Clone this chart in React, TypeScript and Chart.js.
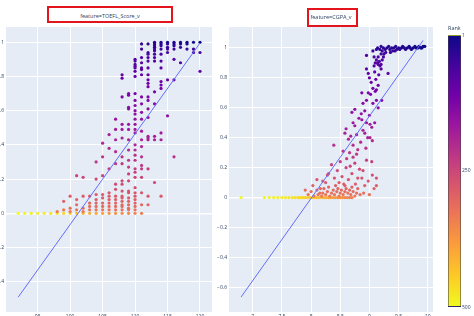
import React, { useEffect, useRef } from "react";
import { Chart, registerables } from "chart.js";

Chart.register(...registerables);

// ---------- DATA ----------
// TOEFL panel points: [TOEFL score, y, Rank]
const toeflPoints: [number, number, number][] = [
  [92, 0, 500], [93, 0, 496], [94, 0, 492], [95, 0, 488], [96, 0, 484], [97, 0, 478],
  [98, 0, 470], [98, 0.01, 338],
  [99, 0, 460], [99, 0.02, 328], [99, 0.07, 297],
  [100, 0, 448], [100, 0.01, 337], [100, 0.03, 321], [100, 0.1, 285],
  [101, 0, 435], [101, 0.02, 327], [101, 0.05, 308], [101, 0.08, 293], [101, 0.22, 246],
  [102, 0, 422], [102, 0.01, 336], [102, 0.03, 320], [102, 0.1, 284], [102, 0.21, 249],
  [103, 0, 410], [103, 0.02, 326], [103, 0.04, 315], [103, 0.06, 302], [103, 0.1, 284],
  [104, 0, 398], [104, 0.02, 325], [104, 0.04, 314], [104, 0.06, 301], [104, 0.08, 292], [104, 0.11, 281], [104, 0.2, 251], [104, 0.3, 222],
  [105, 0, 388], [105, 0.02, 325], [105, 0.04, 313], [105, 0.06, 300], [105, 0.09, 288], [105, 0.11, 280], [105, 0.22, 245], [105, 0.33, 214], [105, 0.41, 194],
  [106, 0, 378], [106, 0.02, 324], [106, 0.04, 313], [106, 0.06, 300], [106, 0.08, 291], [106, 0.1, 283], [106, 0.12, 277], [106, 0.26, 233], [106, 0.38, 201], [106, 0.46, 181],
  [107, 0, 370], [107, 0.02, 324], [107, 0.04, 312], [107, 0.06, 300], [107, 0.08, 291], [107, 0.1, 283], [107, 0.14, 270], [107, 0.17, 261], [107, 0.29, 225], [107, 0.36, 207], [107, 0.43, 189], [107, 0.49, 174], [107, 0.55, 159],
  [108, 0, 362], [108, 0.02, 323], [108, 0.04, 312], [108, 0.05, 306], [108, 0.07, 296], [108, 0.09, 287], [108, 0.1, 283], [108, 0.13, 273], [108, 0.17, 260], [108, 0.19, 255], [108, 0.29, 224], [108, 0.33, 213], [108, 0.44, 186], [108, 0.49, 173], [108, 0.52, 166], [108, 0.68, 128], [108, 0.79, 102], [108, 0.81, 97],
  [109, 0, 355], [109, 0.02, 323], [109, 0.03, 318], [109, 0.05, 305], [109, 0.07, 295], [109, 0.09, 287], [109, 0.12, 276], [109, 0.13, 273], [109, 0.19, 254], [109, 0.23, 242], [109, 0.27, 230], [109, 0.31, 219], [109, 0.37, 203], [109, 0.43, 188], [109, 0.49, 173], [109, 0.52, 165], [109, 0.61, 144], [109, 0.62, 142], [109, 0.69, 125], [109, 0.7, 123],
  [110, 0, 348], [110, 0.02, 322], [110, 0.04, 311], [110, 0.06, 299], [110, 0.08, 290], [110, 0.1, 282], [110, 0.12, 276], [110, 0.15, 266], [110, 0.21, 247], [110, 0.24, 238], [110, 0.26, 232], [110, 0.31, 219], [110, 0.34, 211], [110, 0.37, 203], [110, 0.4, 195], [110, 0.47, 178], [110, 0.49, 172], [110, 0.52, 165], [110, 0.55, 158], [110, 0.58, 151], [110, 0.6, 146], [110, 0.63, 139], [110, 0.66, 132], [110, 0.7, 123], [110, 0.8, 99], [110, 0.83, 92], [110, 0.85, 87], [110, 0.86, 84], [110, 0.87, 82], [110, 0.89, 77], [110, 0.9, 74],
  [111, 0, 340], [111, 0.05, 304], [111, 0.12, 275], [111, 0.21, 247], [111, 0.26, 231], [111, 0.28, 227], [111, 0.33, 212], [111, 0.39, 198], [111, 0.43, 187], [111, 0.48, 175], [111, 0.55, 157], [111, 0.59, 149], [111, 0.64, 137], [111, 0.68, 127], [111, 0.81, 96], [111, 0.84, 89], [111, 0.85, 86], [111, 0.88, 79], [111, 0.91, 71], [111, 0.96, 54], [111, 0.99, 36],
  [112, 0.05, 303], [112, 0.1, 281], [112, 0.26, 231], [112, 0.43, 187], [112, 0.44, 185], [112, 0.45, 183], [112, 0.56, 156], [112, 0.61, 143], [112, 0.66, 131], [112, 0.68, 126], [112, 0.74, 114], [112, 0.76, 109], [112, 0.78, 104], [112, 0.81, 96], [112, 0.85, 86], [112, 0.89, 76], [112, 0.91, 70], [112, 0.93, 65], [112, 0.94, 62], [112, 0.99, 35],
  [113, 0.18, 257], [113, 0.43, 187], [113, 0.45, 182], [113, 0.64, 136], [113, 0.71, 121], [113, 0.89, 76], [113, 0.91, 70], [113, 0.93, 64], [113, 0.95, 58], [113, 0.96, 53], [113, 0.97, 48], [113, 0.98, 43], [113, 0.99, 33], [113, 1.0, 24],
  [114, 0.1, 281], [114, 0.43, 186], [114, 0.47, 177], [114, 0.73, 116], [114, 0.75, 111], [114, 0.77, 107], [114, 0.85, 86], [114, 0.89, 75], [114, 0.93, 64], [114, 0.96, 52], [114, 0.98, 42], [114, 0.99, 31], [114, 1.0, 21],
  [115, 0.57, 153], [115, 0.78, 104], [115, 0.94, 61], [115, 0.96, 51], [115, 0.97, 47], [115, 0.99, 29], [115, 1.0, 17],
  [116, 0.33, 212], [116, 0.78, 103], [116, 0.9, 73], [116, 0.96, 50], [116, 0.98, 41], [116, 0.99, 27], [116, 1.0, 13],
  [117, 0.88, 78], [117, 0.97, 46], [117, 0.99, 25], [117, 1.0, 10],
  [118, 0.96, 49], [118, 0.99, 23], [118, 1.0, 7],
  [119, 0.94, 60], [119, 0.96, 48], [119, 1.0, 4],
  [120, 0.83, 91], [120, 0.94, 60], [120, 1.0, 1],
];

// CGPA panel points: [CGPA, y, Rank]
const cgpaPoints: [number, number, number][] = [
  // zero row
  [6.8, 0, 500], [7.2, 0, 498], [7.28, 0, 495], [7.36, 0, 492], [7.43, 0, 489], [7.5, 0, 486], [7.56, 0, 482], [7.62, 0, 478],
  [7.68, 0, 474], [7.73, 0, 470], [7.78, 0, 466], [7.82, 0, 462], [7.86, 0, 458], [7.9, 0, 454], [7.94, 0, 449], [7.98, 0, 444],
  [8.02, 0, 439], [8.06, 0, 434], [8.1, 0, 429], [8.14, 0, 424], [8.18, 0, 418], [8.22, 0, 412], [8.26, 0, 406], [8.3, 0, 400],
  [8.34, 0, 394], [8.38, 0, 388], [8.42, 0, 382], [8.46, 0, 376], [8.5, 0, 370], [8.54, 0, 364], [8.58, 0, 358], [8.62, 0, 352],
  [8.66, 0, 346], [8.7, 0, 340],
  // just above zero
  [8.05, 0.01, 338], [8.12, 0.02, 330], [8.18, 0.01, 337], [8.2, 0.03, 322], [8.25, 0.02, 328], [8.28, 0.04, 316], [8.32, 0.01, 336],
  [8.35, 0.03, 321], [8.38, 0.05, 309], [8.4, 0.02, 327], [8.44, 0.04, 315], [8.46, 0.06, 302], [8.48, 0.01, 335], [8.5, 0.03, 320],
  [8.52, 0.05, 308], [8.55, 0.02, 326], [8.58, 0.04, 314], [8.6, 0.06, 301], [8.63, 0.03, 319], [8.66, 0.05, 307], [8.68, 0.02, 325],
  [8.72, 0.04, 313], [8.75, 0.01, 334], [8.78, 0.03, 318], [8.8, 0.06, 300], [8.84, 0.02, 324], [7.95, 0.02, 332], [8.0, 0.04, 318],
  [8.1, 0.05, 310], [8.15, 0.03, 323], [8.22, 0.06, 303], [8.3, 0.07, 297], [8.42, 0.08, 292], [8.56, 0.09, 288], [8.7, 0.07, 296],
  [8.9, 0.03, 318], [9.0, 0.02, 323], [7.9, 0.05, 311], [8.03, 0.08, 294], [8.1, 0.12, 278], [8.16, 0.06, 303], [8.25, 0.1, 284],
  [8.3, 0.16, 264],
  // low cloud
  [8.2, 0.11, 281], [8.28, 0.15, 267], [8.35, 0.22, 245], [8.4, 0.13, 274], [8.45, 0.18, 258], [8.48, 0.1, 284], [8.5, 0.24, 239],
  [8.53, 0.14, 270], [8.58, 0.08, 291], [8.6, 0.2, 250], [8.61, 0.26, 233], [8.64, 0.12, 277], [8.67, 0.21, 248], [8.7, 0.16, 264],
  [8.72, 0.27, 230], [8.75, 0.23, 242], [8.76, 0.09, 287], [8.78, 0.29, 225], [8.8, 0.13, 273], [8.83, 0.19, 255], [8.87, 0.13, 273],
  [8.89, 0.18, 257], [8.92, 0.08, 291], [8.95, 0.25, 236], [8.98, 0.11, 280], [9.04, 0.24, 238], [9.05, 0.15, 266], [9.08, 0.06, 300],
  [9.12, 0.13, 272], [9.12, 0.08, 290],
  // middle
  [8.39, 0.35, 209], [8.55, 0.31, 220], [8.58, 0.43, 189], [8.64, 0.39, 199], [8.68, 0.41, 194], [8.72, 0.35, 208], [8.72, 0.5, 171],
  [8.75, 0.48, 176], [8.78, 0.42, 191], [8.82, 0.53, 164], [8.85, 0.37, 204], [8.87, 0.52, 166], [8.89, 0.45, 184], [8.92, 0.43, 188],
  [8.94, 0.33, 214], [8.95, 0.5, 170], [8.97, 0.4, 196], [9.01, 0.49, 173], [9.01, 0.4, 195], [9.04, 0.47, 178], [9.09, 0.5, 169],
  [8.7, 0.57, 154], [8.75, 0.59, 150], [8.86, 0.56, 157], [8.89, 0.63, 140], [8.95, 0.65, 136], [8.98, 0.7, 124], [9.02, 0.69, 126],
  [9.06, 0.63, 139], [9.12, 0.65, 135], [9.1, 0.71, 122], [9.21, 0.65, 134], [9.15, 0.6, 146], [8.87, 0.7, 125], [8.6, 0.46, 181],
  [8.66, 0.3, 222], [8.8, 0.32, 217], [8.92, 0.58, 152], [9.0, 0.55, 159], [9.05, 0.38, 201],
  // upper
  [8.98, 0.83, 93], [9.0, 0.8, 100], [9.03, 0.77, 108], [9.09, 0.84, 90], [9.11, 0.79, 103], [9.15, 0.75, 112], [9.16, 0.82, 95],
  [9.32, 0.83, 92], [9.06, 0.73, 117], [9.12, 0.72, 119], [8.95, 0.86, 85], [9.08, 0.88, 80], [9.18, 0.88, 79], [9.14, 0.9, 75],
  [9.2, 0.86, 84],
  // drop near the top
  [8.95, 0.95, 59], [9.06, 0.98, 45], [9.08, 0.94, 63], [9.12, 0.92, 69], [9.15, 0.94, 62], [9.17, 0.91, 72], [9.2, 0.96, 55],
  [9.22, 0.92, 68], [9.24, 0.94, 61], [9.15, 0.89, 78], [9.2, 0.89, 77], [9.1, 0.9, 75], [9.25, 0.96, 54], [9.28, 0.97, 50],
  [9.22, 0.98, 45], [9.12, 0.99, 38],
  // top band
  [9.14, 1.0, 30], [9.18, 0.99, 36], [9.2, 1.01, 28], [9.24, 1.0, 29], [9.27, 0.99, 34], [9.3, 1.0, 27], [9.33, 1.01, 25],
  [9.35, 0.99, 33], [9.38, 1.0, 26], [9.4, 0.98, 42], [9.42, 1.0, 24], [9.45, 1.01, 22], [9.47, 0.99, 31], [9.5, 1.0, 21],
  [9.52, 0.99, 30], [9.55, 1.0, 19], [9.57, 1.01, 17], [9.6, 1.0, 16], [9.62, 0.99, 28], [9.65, 1.0, 14], [9.68, 1.01, 12],
  [9.7, 1.0, 11], [9.72, 0.99, 26], [9.75, 1.0, 9], [9.78, 1.01, 8], [9.8, 1.0, 7], [9.83, 1.0, 6], [9.85, 1.01, 5],
  [9.88, 1.0, 4], [9.9, 1.0, 3], [9.92, 1.01, 2], [9.95, 1.01, 1], [9.36, 0.97, 48], [9.44, 0.98, 41],
];

const toeflLine: [number, number][] = [[92, -0.49], [120, 0.995]];
const cgpaLine: [number, number][] = [[6.8, -0.665], [9.92, 1.05]];

const toeflXTicks = [95, 100, 105, 110, 115, 120];
const toeflXLabels = ["95", "100", "105", "110", "115", "120"];
const toeflYTicks = [-0.4, -0.2, 0, 0.2, 0.4, 0.6, 0.8, 1];
const toeflYLabels = ["\u22120.4", "\u22120.2", "0", "0.2", "0.4", "0.6", "0.8", "1"];

const cgpaXTicks = [7, 7.5, 8, 8.5, 9, 9.5, 10];
const cgpaXLabels = ["7", "7.5", "8", "8.5", "9", "9.5", "10"];
const cgpaYTicks = [-0.6, -0.4, -0.2, 0, 0.2, 0.4, 0.6, 0.8, 1];
const cgpaYLabels = ["\u22120.6", "\u22120.4", "\u22120.2", "0", "0.2", "0.4", "0.6", "0.8", "1"];

const panelTitles = ["feature=TOEFL_Score_v", "feature=CGPA_v"];
const colorbarTitle = "Rank";
const rankTicks = [1, 250, 500];
const rankMin = 1;
const rankMax = 500;

// ---------- STYLE ----------
const PLASMA = ["#0d0887", "#46039f", "#7201a8", "#9c179e", "#bd3786", "#d8576b", "#ed7953", "#fb9f3a", "#fdca26", "#f0f921"];
const FONT = "'Open Sans', 'DejaVu Sans', Arial, sans-serif";
const TEXT = "#2a3f5f";

function hexToRgb(h: string) {
  return [parseInt(h.slice(1, 3), 16), parseInt(h.slice(3, 5), 16), parseInt(h.slice(5, 7), 16)];
}
function plasma(rank: number) {
  const t = Math.min(1, Math.max(0, (rank - rankMin) / (rankMax - rankMin)));
  const f = t * (PLASMA.length - 1);
  const i = Math.min(PLASMA.length - 2, Math.floor(f));
  const u = f - i;
  const a = hexToRgb(PLASMA[i]);
  const b = hexToRgb(PLASMA[i + 1]);
  const c = a.map((v, k) => Math.round(v + (b[k] - v) * u));
  return `rgb(${c[0]},${c[1]},${c[2]})`;
}

const plotBg = {
  id: "plotBg",
  beforeDraw(chart: any) {
    const { ctx, chartArea } = chart;
    ctx.save();
    ctx.fillStyle = "#E5ECF6";
    ctx.fillRect(chartArea.left, chartArea.top, chartArea.right - chartArea.left, chartArea.bottom - chartArea.top);
    ctx.restore();
  },
};

type PanelProps = {
  left: number; top: number; width: number; height: number; yAxisW: number; xAxisH: number;
  points: [number, number, number][]; line: [number, number][];
  xMin: number; xMax: number; yMin: number; yMax: number;
  xTicks: number[]; xLabels: string[]; yTicks: number[]; yLabels: string[];
};

function Panel(p: PanelProps) {
  const ref = useRef<HTMLCanvasElement | null>(null);
  useEffect(() => {
    if (!ref.current) return;
    const tickFont = { family: FONT, size: 5 };
    const chart = new Chart(ref.current, {
      type: "scatter",
      data: {
        datasets: [
          {
            type: "line",
            data: p.line.map(([x, y]) => ({ x, y })),
            borderColor: "#636efa",
            borderWidth: 1,
            pointRadius: 0,
            fill: false,
          } as any,
          {
            data: p.points.map(([x, y]) => ({ x, y })),
            backgroundColor: p.points.map((d) => plasma(d[2])),
            borderWidth: 0,
            pointRadius: 1.6,
          },
        ],
      },
      options: {
        responsive: false,
        animation: false,
        devicePixelRatio: 1,
        layout: { padding: 0, autoPadding: false },
        plugins: { legend: { display: false }, tooltip: { enabled: false } },
        events: [],
        scales: {
          x: {
            type: "linear",
            min: p.xMin,
            max: p.xMax,
            afterFit: (s: any) => { s.height = p.xAxisH; },
            afterBuildTicks: (s: any) => { s.ticks = p.xTicks.map((v) => ({ value: v })); },
            grid: { color: "#ffffff", lineWidth: 1, drawTicks: false },
            border: { display: false },
            ticks: {
              autoSkip: false, maxRotation: 0, minRotation: 0, padding: 2,
              color: TEXT, font: tickFont,
              callback: (_v: any, i: number) => p.xLabels[i],
            },
          },
          y: {
            type: "linear",
            min: p.yMin,
            max: p.yMax,
            afterFit: (s: any) => { s.width = p.yAxisW; },
            afterBuildTicks: (s: any) => { s.ticks = p.yTicks.map((v) => ({ value: v })); },
            grid: {
              color: "#ffffff",
              lineWidth: (c: any) => (c.tick && c.tick.value === 0 ? 1.5 : 1),
              drawTicks: false,
            },
            border: { display: false },
            ticks: {
              autoSkip: false, padding: 2,
              color: TEXT, font: tickFont,
              callback: (_v: any, i: number) => p.yLabels[i],
            },
          },
        },
      } as any,
      plugins: [plotBg],
    });
    return () => chart.destroy();
  }, []);
  return (
    <canvas
      ref={ref}
      width={p.width}
      height={p.height}
      style={{ position: "absolute", left: p.left, top: p.top, width: p.width, height: p.height }}
    />
  );
}

export default function App() {
  const plotTop = 22;
  const plotBottom = 312;
  const yAxisW = 30;
  const xAxisH = 12;
  const h = plotBottom - plotTop + xAxisH;
  const gradient = `linear-gradient(to bottom, ${PLASMA.join(", ")})`;
  const barTop = 35;
  const barBottom = 307;
  const rankY = (r: number) => barTop + ((r - rankMin) / (rankMax - rankMin)) * (barBottom - barTop);
  return (
    <div style={{ position: "fixed", left: 0, top: 0, width: 474, height: 316, overflow: "hidden", background: "#fff", fontFamily: FONT }}>
      <Panel
        left={6 - yAxisW} top={plotTop} width={212 - (6 - yAxisW)} height={h} yAxisW={yAxisW} xAxisH={xAxisH}
        points={toeflPoints} line={toeflLine}
        xMin={90.12} xMax={121.85} yMin={-0.577} yMax={1.089}
        xTicks={toeflXTicks} xLabels={toeflXLabels} yTicks={toeflYTicks} yLabels={toeflYLabels}
      />
      <Panel
        left={229 - yAxisW} top={plotTop} width={433 - (229 - yAxisW)} height={h} yAxisW={yAxisW} xAxisH={xAxisH}
        points={cgpaPoints} line={cgpaLine}
        xMin={6.593} xMax={10.09} yMin={-0.765} yMax={1.14}
        xTicks={cgpaXTicks} xLabels={cgpaXLabels} yTicks={cgpaYTicks} yLabels={cgpaYLabels}
      />
      {/* titles */}
      <div style={{ position: "absolute", left: 10, width: 200, top: 13, textAlign: "center", fontSize: 5.5, lineHeight: "7px", color: TEXT }}>
        {panelTitles[0]}
      </div>
      <div style={{ position: "absolute", left: 231, width: 200, top: 14, textAlign: "center", fontSize: 5.5, lineHeight: "7px", color: TEXT }}>
        {panelTitles[1]}
      </div>
      {/* red annotation boxes */}
      <div style={{ position: "absolute", left: 47, top: 6, width: 126, height: 17, border: "2px solid #e3141c", boxSizing: "border-box" }} />
      <div style={{ position: "absolute", left: 307, top: 8, width: 51, height: 19, border: "2px solid #e3141c", boxSizing: "border-box" }} />
      {/* colorbar */}
      <div style={{ position: "absolute", left: 448, top: 25, fontSize: 5.5, lineHeight: "7px", color: TEXT }}>{colorbarTitle}</div>
      <div style={{ position: "absolute", left: 448, top: barTop, width: 13, height: barBottom - barTop, background: gradient, border: "1px solid rgba(68,68,68,0.55)", boxSizing: "border-box" }} />
      {rankTicks.map((r) => (
        <div key={r} style={{ position: "absolute", left: 462, top: rankY(r) - 3.5, fontSize: 5, lineHeight: "7px", color: TEXT }}>
          {String(r)}
        </div>
      ))}
    </div>
  );
}
